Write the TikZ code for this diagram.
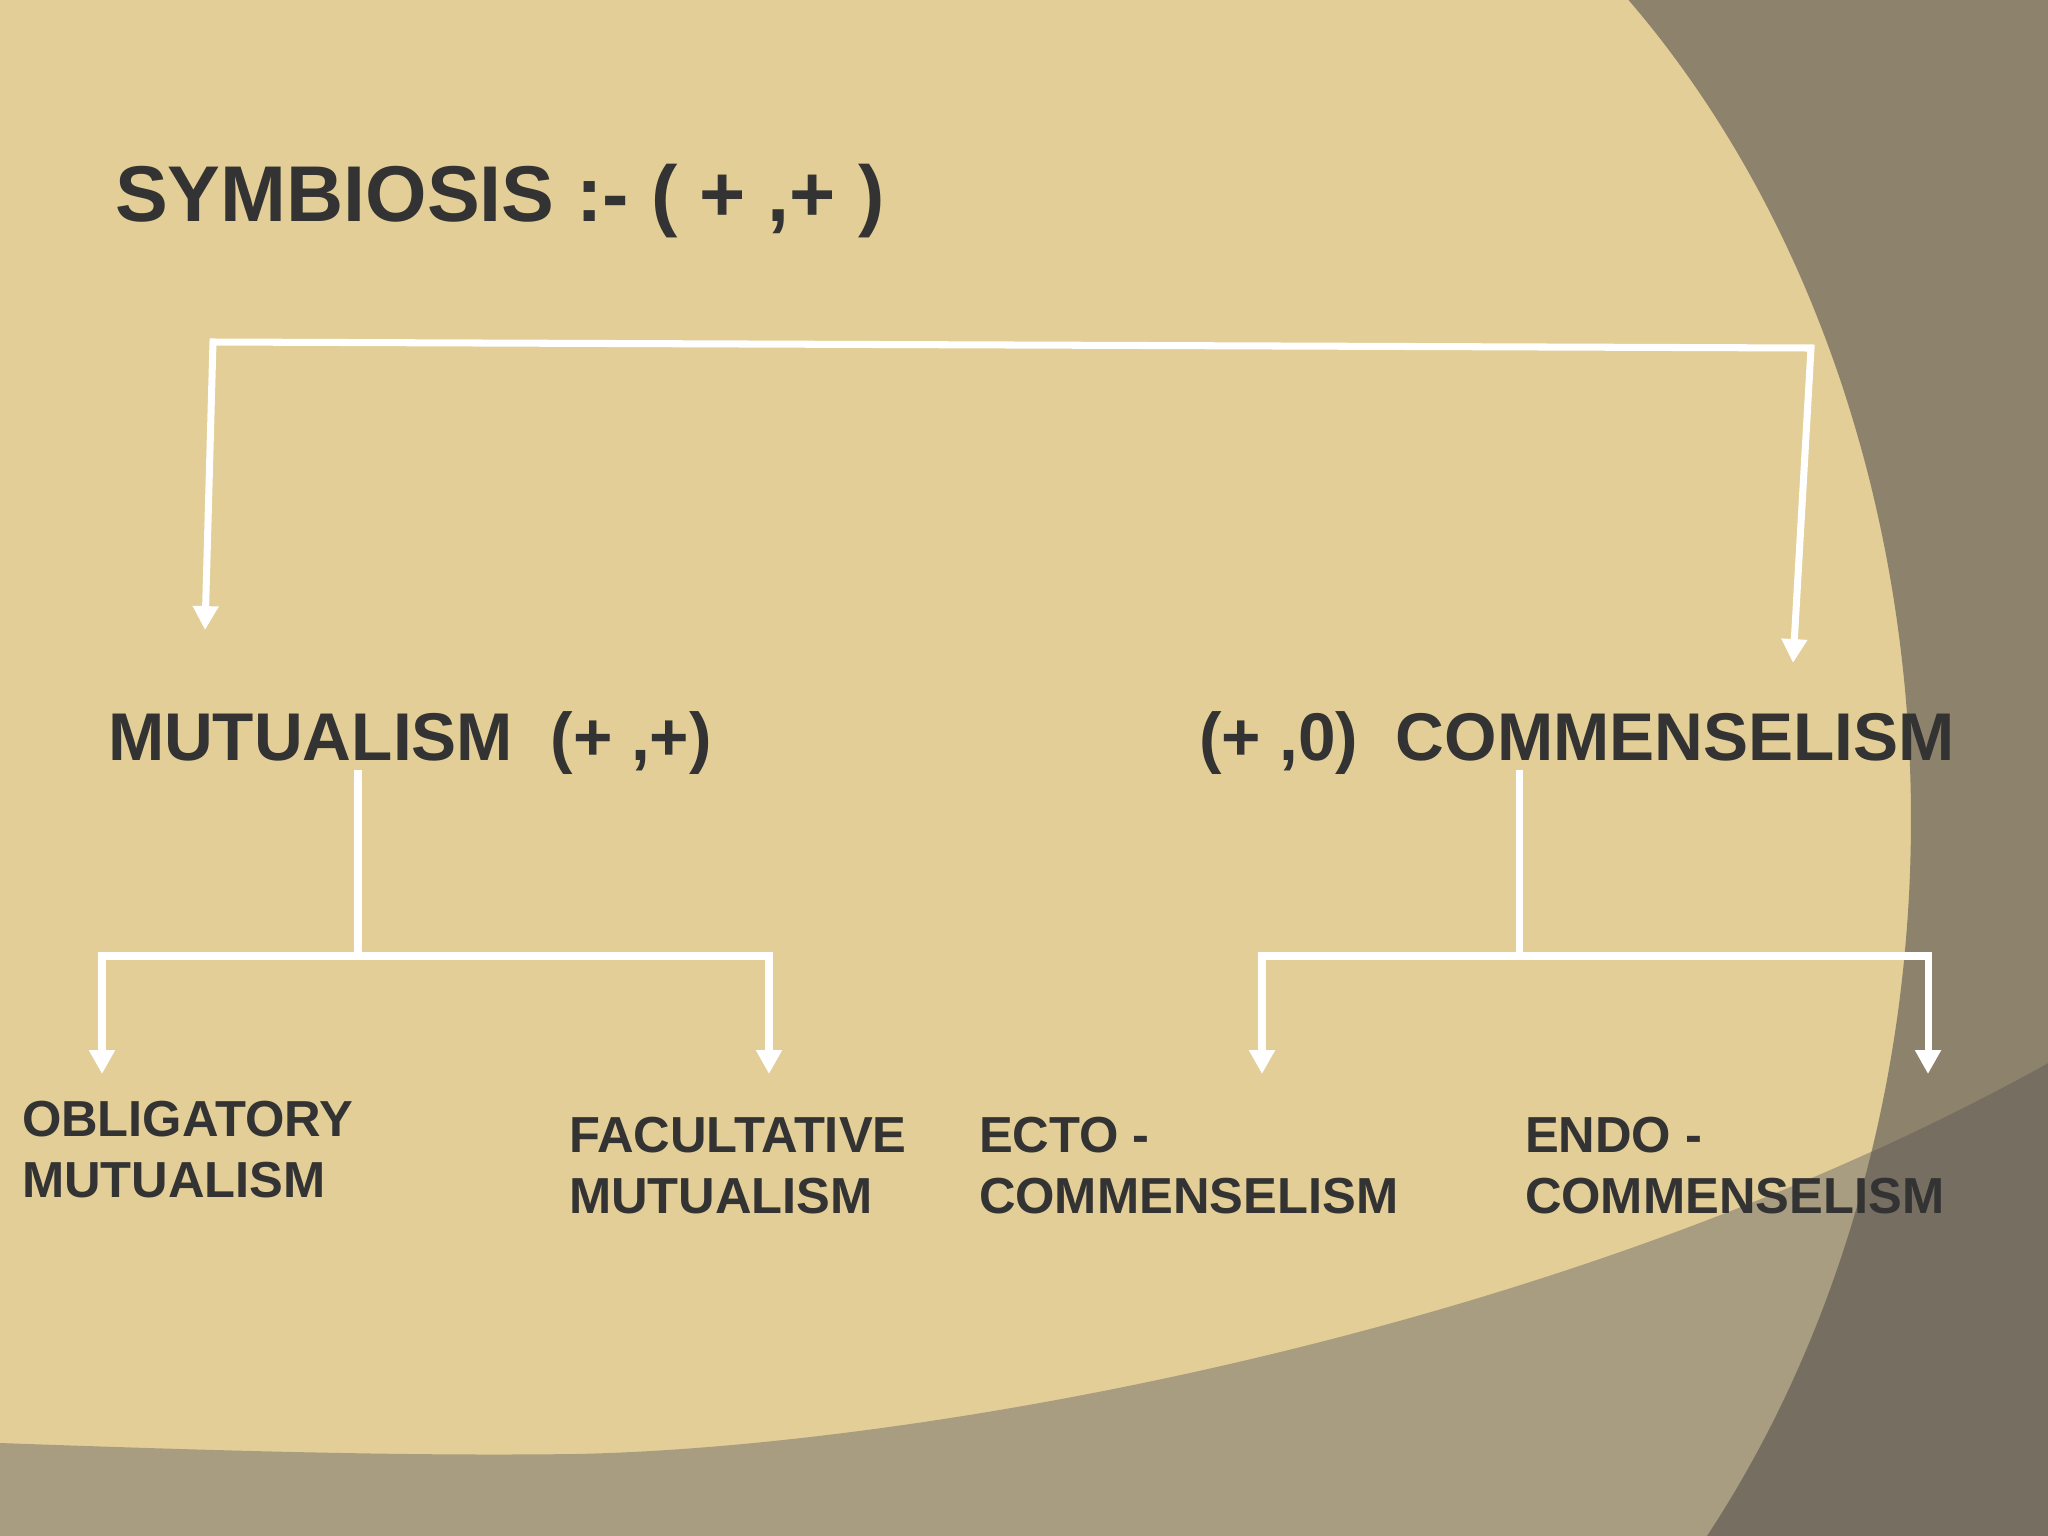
\documentclass[tikz,border=0pt]{standalone}
\usepackage{fontspec}
\setmainfont{Liberation Sans}
\usetikzlibrary{arrows.meta}
\definecolor{paper}{RGB}{226,206,150}
\definecolor{shadeR}{RGB}{141,130,108}
\definecolor{shadeB}{RGB}{168,157,128}
\definecolor{shadeO}{RGB}{118,110,96}
\definecolor{ink}{RGB}{51,51,51}
\tikzset{
  lbl/.style={inner sep=0pt, outer sep=0pt, text=ink, anchor=base west},
  titlefont/.style={font=\fontsize{22.5pt}{27pt}\selectfont\bfseries},
  midfont/.style={font=\fontsize{19.2pt}{23pt}\selectfont\bfseries},
  lowfont/.style={font=\fontsize{14.4pt}{17.3pt}\selectfont\bfseries, align=left},
  conn/.style={draw=white, line width=2pt, line join=miter},
  tipped/.style={conn, {Triangle[width=7pt,length=6.8pt]}-{Triangle[width=7pt,length=6.8pt]}},
}
\begin{document}
\begin{tikzpicture}[x=0.01cm, y=-0.01cm]
\useasboundingbox (0,0) rectangle (2048,1536);
% background
\fill[paper] (0,0) rectangle (2048,1536);
\def\rightshape{plot[domain=-52:44, samples=80, smooth] ({1064+847*cos(\x)}, {820+1100*sin(\x)}) -- (2100,1600) -- (2100,-60) -- cycle}
\def\bottomshape{(-20,1442) -- (0,1443) .. controls (250,1452) and (420,1456) .. (574,1454) .. controls (900,1448) and (1550,1340) .. (2048,1063) -- (2100,1035) -- (2100,1600) -- (-20,1600) -- cycle}
\fill[shadeR] \rightshape;
\fill[shadeB] \bottomshape;
\begin{scope}
  \clip \bottomshape;
  \fill[shadeO] \rightshape;
\end{scope}

% texts
\node[lbl, titlefont] (title) at (115,221) {SYMBIOSIS :- ( + ,+ )};
\node[lbl, midfont] (mut) at (108,760) {MUTUALISM\ \ (+ ,+)};
\node[lbl, midfont] (com) at (1199,760) {(+ ,0)\ \ COMMENSELISM};
\node[lbl, lowfont] (obl) at (22,1197) {OBLIGATORY\\MUTUALISM};
\node[lbl, lowfont] (fac) at (569,1213) {FACULTATIVE\\MUTUALISM};
\node[lbl, lowfont] (ecto) at (979,1213) {ECTO -\\COMMENSELISM};
\node[lbl, lowfont] (endo) at (1525,1213) {ENDO -\\COMMENSELISM};

% connector coordinates
\coordinate (sL) at (205,630);
\coordinate (tL) at (213,342);
\coordinate (tR) at (1811,348);
\coordinate (sR) at (1793,663);

\coordinate (mTop) at (358,770);
\coordinate (mJoin) at (358,956);
\coordinate (mhL) at (102,956);
\coordinate (mhR) at (769,956);
\coordinate (oTip) at (102,1074);
\coordinate (fTip) at (769,1074);

\coordinate (cTop) at (1519,770);
\coordinate (cJoin) at (1519,956);
\coordinate (chL) at (1262,956);
\coordinate (chR) at (1928,956);
\coordinate (eTip) at (1262,1074);
\coordinate (nTip) at (1928,1074);

\draw[tipped] (sL) -- (tL) -- (tR) -- (sR);
\draw[conn] (mTop) -- (mJoin);
\draw[tipped] (oTip) -- (mhL) -- (mhR) -- (fTip);
\draw[conn] (cTop) -- (cJoin);
\draw[tipped] (eTip) -- (chL) -- (chR) -- (nTip);
\end{tikzpicture}
\end{document}
